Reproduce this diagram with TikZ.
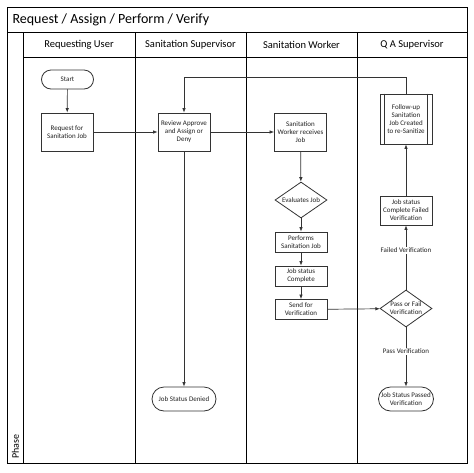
\documentclass[tikz,border=0pt]{standalone}
\usepackage{fontspec}
\setmainfont{Carlito}
\usetikzlibrary{shapes.geometric,arrows.meta}
\definecolor{linegray}{HTML}{333333}
\definecolor{textgray}{HTML}{222222}
\begin{document}
\begin{tikzpicture}[x=1pt,y=-1pt,
  frame/.style={draw=black,line width=0.9pt},
  box/.style={draw=linegray,line width=0.8pt,fill=white,minimum width=52pt,inner sep=1pt,align=center,text=textgray,font=\fontsize{7}{8}\selectfont},
  term/.style={box,rounded corners=11pt},
  dia/.style={draw=linegray,line width=0.8pt,fill=white,diamond,aspect=1.45,inner sep=0pt,minimum width=52pt,minimum height=36pt,align=center,text=textgray,font=\fontsize{7}{8}\selectfont},
  conn/.style={draw=linegray,line width=0.7pt,-{Latex[length=4.5pt,width=3.5pt]}},
  lbl/.style={fill=white,inner sep=1pt,text=textgray,font=\fontsize{7}{8}\selectfont},
  hdr/.style={font=\fontsize{10.5}{12}\selectfont}
]
\useasboundingbox (0,0) rectangle (474,472);
% frame
\draw[frame] (7,7) rectangle (467,463);
\draw[frame] (7,32) -- (467,32);
\draw[frame] (23,57) -- (467,57);
\draw[frame] (23,32) -- (23,463);
\draw[frame] (135,32) -- (135,463);
\draw[frame] (246,32) -- (246,463);
\draw[frame] (357,32) -- (357,463);
\node[anchor=west,font=\fontsize{14}{16}\selectfont] (title) at (9,19.5) {Request / Assign / Perform / Verify};
\node[hdr] (h1) at (79,44.5) {Requesting User};
\node[hdr] (h2) at (190.5,44.5) {Sanitation Supervisor};
\node[hdr] (h3) at (301.5,44.5) {Sanitation Worker};
\node[hdr] (h4) at (412,44.5) {Q A Supervisor};
\node[rotate=90,anchor=west,font=\fontsize{10}{11}\selectfont] (phase) at (15.5,462) {Phase};
% nodes
\node[term,minimum height=19pt,rounded corners=9.5pt] (start) at (67.5,79.5) {Start};
\node[box,minimum height=38pt] (req) at (67,132) {Request for\\Sanitation Job};
\node[box,minimum height=38pt] (rev) at (184,132) {Review Approve\\and Assign or\\Deny};
\node[box,minimum height=38pt] (recv) at (300.5,132) {Sanitation\\Worker receives\\Job};
\node[box,minimum height=50pt] (follow) at (406,119) {Follow-up\\Sanitation\\Job Created\\to re-Sanitize};
\draw[linegray,line width=0.8pt] ([xshift=5pt]follow.north west) -- ([xshift=5pt]follow.south west);
\draw[linegray,line width=0.8pt] ([xshift=-5pt]follow.north east) -- ([xshift=-5pt]follow.south east);
\node[dia] (eval) at (301,200) {Evaluates Job};
\node[box,minimum height=20pt] (perf) at (301,242) {Performs\\Sanitation Job};
\node[box,minimum height=20pt] (comp) at (301,276) {Job status\\Complete};
\node[box,minimum height=20pt] (send) at (301,309.5) {Send for\\Verification};
\node[dia,minimum height=37pt] (pf) at (406,308.5) {Pass or Fail\\Verification};
\node[box,minimum height=29pt] (failed) at (406,210.5) {Job status\\Complete Failed\\Verification};
\node[term,minimum height=24pt,minimum width=55pt,rounded corners=12pt,inner sep=0.5pt] (passed) at (406,399) {Job Status Passed\\Verification};
\node[term,minimum height=24pt,minimum width=64pt,rounded corners=12pt] (denied) at (184,399) {Job Status Denied};
% connectors
\draw[conn] (start) -- (req);
\draw[conn] (req) -- (rev);
\draw[conn] (rev) -- (recv);
\draw[conn] (recv) -- (eval);
\draw[conn] (eval) -- (perf);
\draw[conn] (perf) -- (comp);
\draw[conn] (comp) -- (send);
\draw[conn] (send) -- (pf);
\draw[conn] (pf) -- node[lbl,pos=0.61] (lf) {Failed Verification} (failed);
\draw[conn] (failed) -- (follow);
\draw[conn] (follow.north) -- ++(0,-16) -| (rev.north);
\draw[conn] (rev) -- (denied);
\draw[conn] (pf) -- node[lbl,pos=0.4] (lp) {Pass Verification} (passed);
\end{tikzpicture}
\end{document}
